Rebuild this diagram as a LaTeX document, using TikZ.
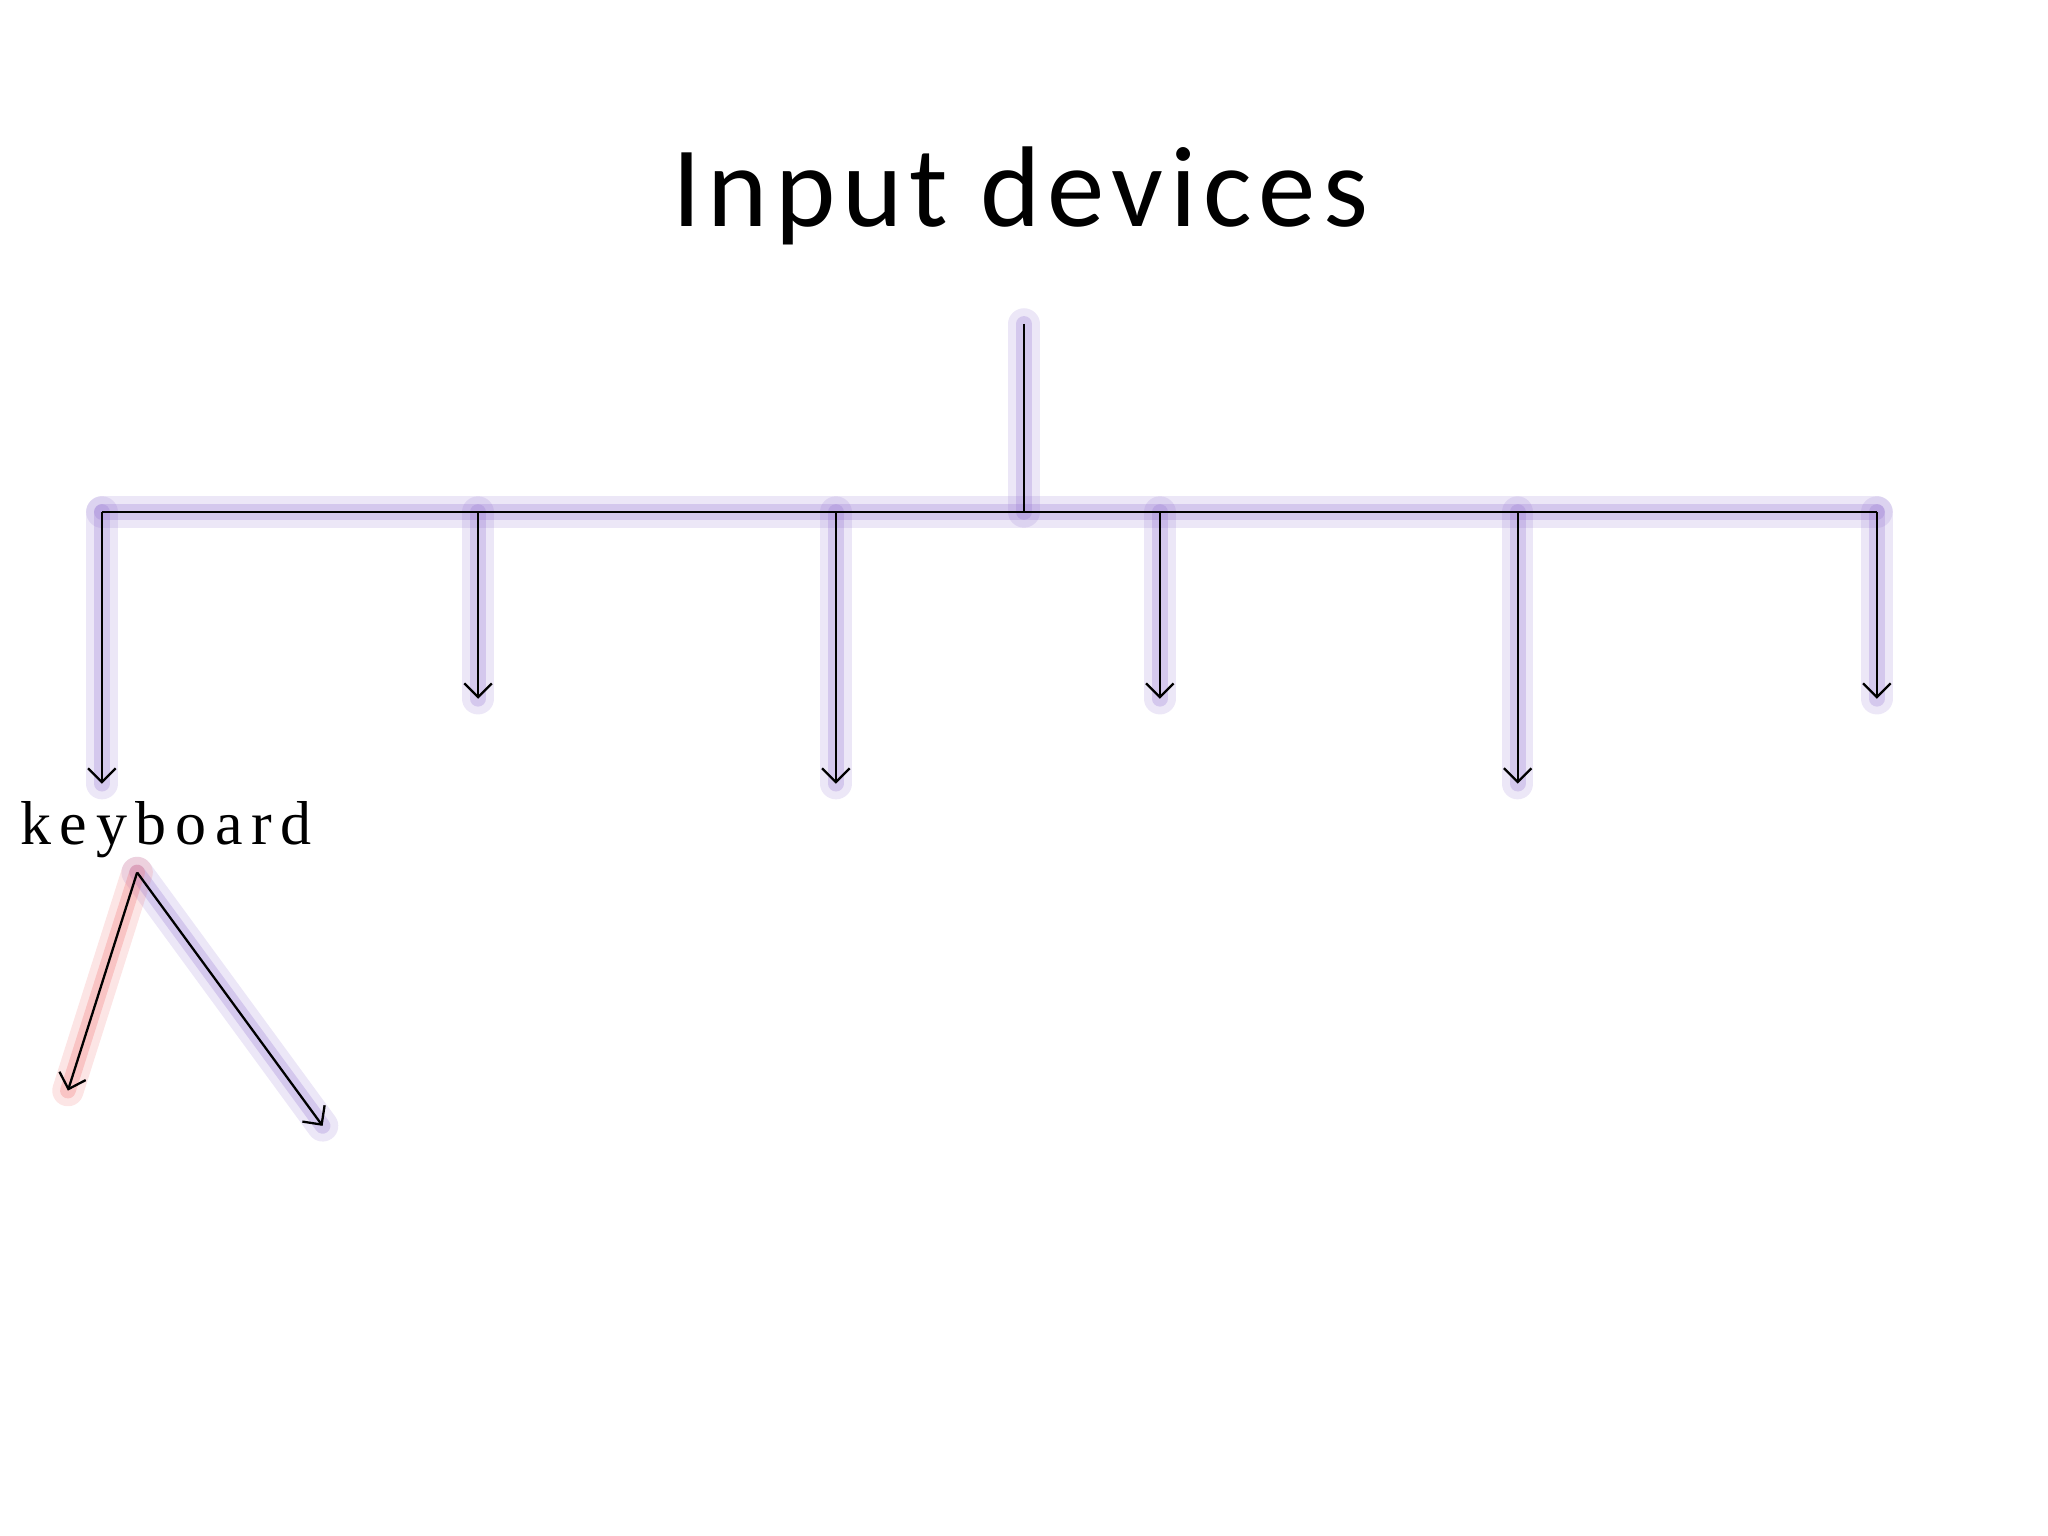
\documentclass[tikz,border=0pt]{standalone}
\usepackage{fontspec}
\setmainfont{Carlito}
\newfontfamily\kbfont[LetterSpace=14]{Liberation Serif}
\newfontfamily\ttlfont[LetterSpace=6]{Carlito}
\usetikzlibrary{arrows.meta}
\definecolor{glowp}{RGB}{150,120,210}
\definecolor{glowr}{RGB}{240,110,110}
\tikzset{
  conn/.style={black, line width=0.5pt},
  arr/.style={conn, -{Straight Barb[length=3pt,width=6pt]}},
  glowA/.style={#1, line width=0.24cm, opacity=0.18, line cap=round},
  glowB/.style={#1, line width=0.12cm, opacity=0.28, line cap=round},
}
\begin{document}
\begin{tikzpicture}[x=0.01cm,y=-0.01cm]
\useasboundingbox (0,0) rectangle (1568,1176);
\coordinate (top) at (784,248);
\coordinate (hub) at (784,392);
\coordinate (L) at (78,392);
\coordinate (R) at (1437,392);
\foreach \n/\x in {a/78,b/366,c/640,d/888,e/1162,f/1437} \coordinate (s\n) at (\x,392);
\coordinate (ea) at (78,600);
\coordinate (eb) at (366,535);
\coordinate (ec) at (640,600);
\coordinate (ed) at (888,535);
\coordinate (ee) at (1162,600);
\coordinate (ef) at (1437,535);
\coordinate (k) at (105,668);
\coordinate (k1) at (52,835);
\coordinate (k2) at (247,862);
% glows
\foreach \s in {glowA,glowB}{
  \draw[\s=glowp] (top) -- (hub);
  \draw[\s=glowp] (L) -- (R);
  \foreach \n in {a,b,c,d,e,f} \draw[\s=glowp] (s\n) -- (e\n);
  \draw[\s=glowp] (k) -- (k2);
  \draw[\s=glowr] (k) -- (k1);
}
% lines
\draw[conn] (top) -- (hub);
\draw[conn] (L) -- (R);
\foreach \n in {a,b,c,d,e,f} \draw[arr] (s\n) -- (e\n);
\draw[arr] (k) -- (k1);
\draw[arr] (k) -- (k2);
\node (title) at (781,150) {\ttlfont\fontsize{25}{30}\selectfont Input devices};
\node (kb) at (127,635) {\kbfont\fontsize{13.5}{16}\selectfont keyboard};
\end{tikzpicture}
\end{document}
